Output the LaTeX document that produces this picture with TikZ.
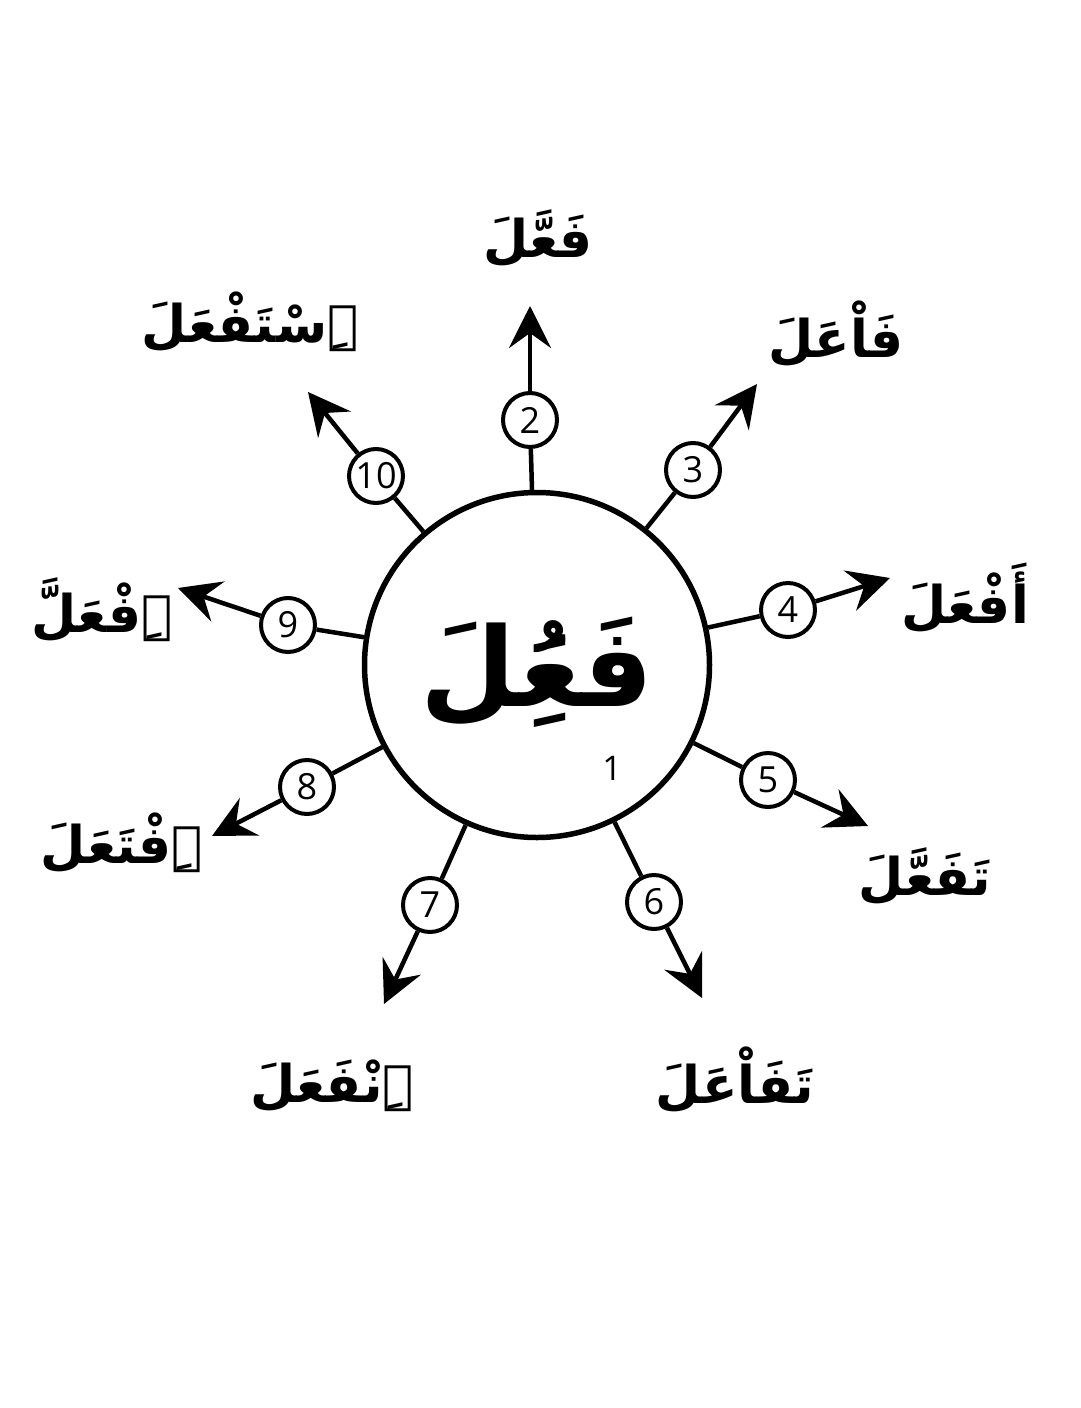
\documentclass[tikz,border=0pt]{standalone}
\usepackage{fontspec}
\setmainfont{Open Sans}
\newfontfamily\arabicfont[Script=Arabic]{DejaVu Sans}
\TeXXeTstate=1
\usetikzlibrary{arrows.meta}
\newcommand{\arword}[1]{{\arabicfont\beginR #1\endR}}
\tikzset{
  num/.style={draw, circle, line width=4pt, minimum size=54pt, inner sep=0pt, font=\fontsize{36}{36}\selectfont},
  spoke/.style={line width=4.5pt},
  pointer/.style={line width=4.5pt, -{Stealth[length=42pt,width=42pt,inset=15pt]}},
  verb/.style={font=\fontsize{52}{56}\selectfont\bfseries}
}
\begin{document}
\begin{tikzpicture}[x=1pt,y=-1pt]
\useasboundingbox (0,0) rectangle (1080,1408);
\node[draw, circle, line width=5.5pt, minimum size=345pt] (fx) at (537,665) {};
\node[font=\fontsize{110}{115}\selectfont\bfseries] (root) at (537,672) {\arword{فَعَُِلَ}};
\node[font=\fontsize{34}{34}\selectfont] (one) at (612,768) {1};
% number circles
\node[num] (n2) at (530,420) {2};
\node[num] (n3) at (693,470) {3};
\node[num] (n4) at (788,610) {4};
\node[num] (n5) at (768,780) {5};
\node[num] (n6) at (654,902) {6};
\node[num] (n7) at (430,905) {7};
\node[num] (n8) at (307,787) {8};
\node[num] (n9) at (288,625) {9};
\node[num] (n10) at (376,476) {10};
% arrow tips
\coordinate (t2) at (530,306);
\coordinate (t3) at (757,384);
\coordinate (t4) at (890,578);
\coordinate (t5) at (868,826);
\coordinate (t6) at (702,998);
\coordinate (t7) at (384,1004);
\coordinate (t8) at (212,836);
\coordinate (t9) at (178,588);
\coordinate (t10) at (308,392);
% the forms
\node[verb] (w2) at (538,238) {\arword{فَعَّلَ}};
\node[verb] (w3) at (836,334) {\arword{فَاْعَلَ}};
\node[verb] (w4) at (965,598) {\arword{أَفْعَلَ}};
\node[verb] (w5) at (925,876) {\arword{تَفَعَّلَ}};
\node[verb] (w6) at (735,1080) {\arword{تَفَاْعَلَ}};
\node[verb] (w7) at (332,1086) {\arword{ٱِنْفَعَلَ}};
\node[verb] (w8) at (122,843) {\arword{ٱِفْتَعَلَ}};
\node[verb] (w9) at (102,610) {\arword{ٱِفْعَلَّ}};
\node[verb] (w10) at (250,322) {\arword{ٱِسْتَفْعَلَ}};
% spokes
\draw[spoke] (fx) -- (n2);
\draw[spoke] (fx) -- (n3);
\draw[spoke] (fx) -- (n4);
\draw[spoke] (fx) -- (n5);
\draw[spoke] (fx) -- (n6);
\draw[spoke] (fx) -- (n7);
\draw[spoke] (fx) -- (n8);
\draw[spoke] (fx) -- (n9);
\draw[spoke] (fx) -- (n10);
\draw[pointer] (n2) -- (t2);
\draw[pointer] (n3) -- (t3);
\draw[pointer] (n4) -- (t4);
\draw[pointer] (n5) -- (t5);
\draw[pointer] (n6) -- (t6);
\draw[pointer] (n7) -- (t7);
\draw[pointer] (n8) -- (t8);
\draw[pointer] (n9) -- (t9);
\draw[pointer] (n10) -- (t10);
\end{tikzpicture}
\end{document}
